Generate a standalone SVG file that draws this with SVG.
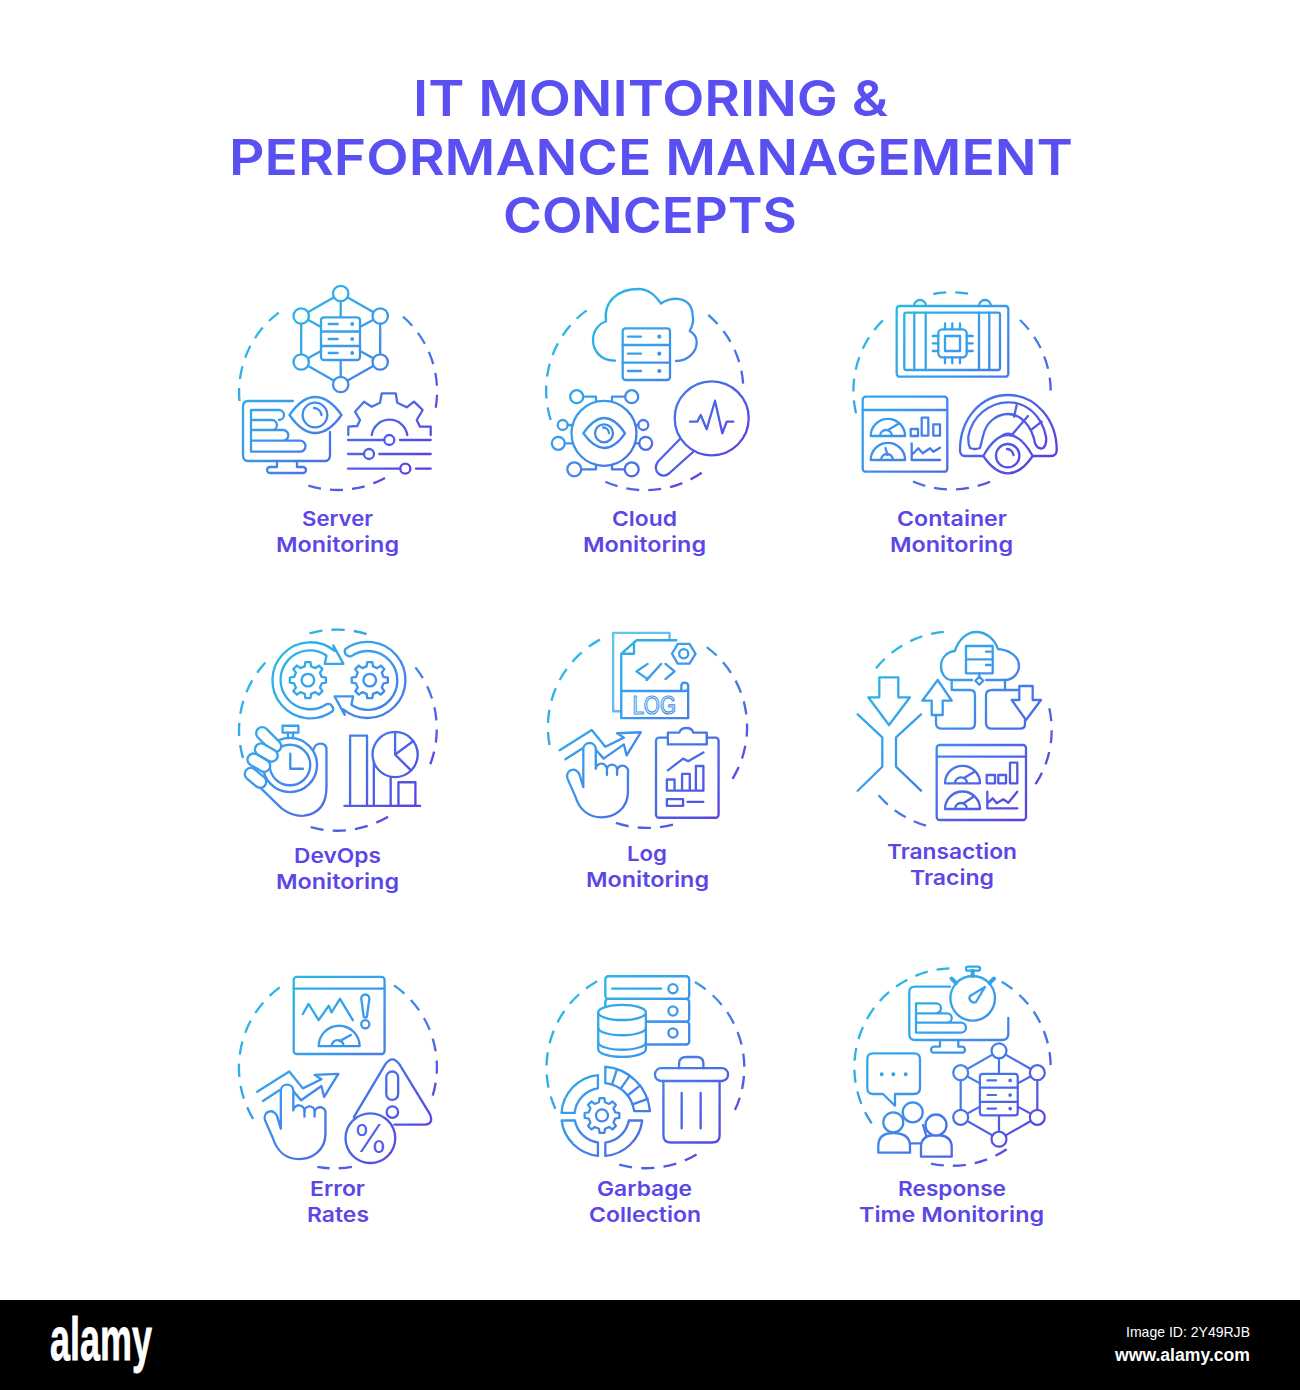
<svg xmlns="http://www.w3.org/2000/svg" width="1300" height="1390" viewBox="0 0 1300 1390">
<style>
.t{font-family:"Inter","Noto Sans",sans-serif;font-weight:600;font-size:50px;fill:#5a50f2}
.l{font-family:"Inter","Noto Sans",sans-serif;font-weight:600;font-size:20.5px;fill:#5b47e6}
.i{fill:none;stroke-width:2.3;stroke-linecap:round;stroke-linejoin:round}
.d{stroke-dasharray:13 9;stroke-linecap:butt}
.w{fill:#fff}
.a{font-family:"Liberation Sans",Arial,sans-serif;fill:#fff}
</style>
<defs>
<linearGradient id="s"><stop offset="0" stop-color="#1fc9de"/><stop offset=".45" stop-color="#3a9cec"/><stop offset="1" stop-color="#5a3fe2"/></linearGradient>
<linearGradient id="g1" href="#s" gradientUnits="userSpaceOnUse" x1="238" y1="291" x2="420" y2="470"/>
<linearGradient id="g2" href="#s" gradientUnits="userSpaceOnUse" x1="545" y1="291" x2="727" y2="470"/>
<linearGradient id="g3" href="#s" gradientUnits="userSpaceOnUse" x1="852" y1="291" x2="1034" y2="470"/>
<linearGradient id="g4" href="#s" gradientUnits="userSpaceOnUse" x1="236" y1="628" x2="418" y2="808"/>
<linearGradient id="g5" href="#s" gradientUnits="userSpaceOnUse" x1="542" y1="628" x2="725" y2="808"/>
<linearGradient id="g6" href="#s" gradientUnits="userSpaceOnUse" x1="853" y1="628" x2="1035" y2="808"/>
<linearGradient id="g7" href="#s" gradientUnits="userSpaceOnUse" x1="236" y1="968" x2="418" y2="1148"/>
<linearGradient id="g8" href="#s" gradientUnits="userSpaceOnUse" x1="540" y1="968" x2="722" y2="1148"/>
<linearGradient id="g9" href="#s" gradientUnits="userSpaceOnUse" x1="852" y1="968" x2="1034" y2="1148"/>
<linearGradient id="h1" href="#g1" gradientTransform="translate(-340.7 -339)"/>
<linearGradient id="h9" href="#g9" gradientTransform="scale(1.031) translate(-999 -1095)"/>
<linearGradient id="c4a" href="#g4" gradientTransform="translate(-306.7 -679.3)"/>
<linearGradient id="c4b" href="#g4" gradientTransform="translate(-367.7 -679.3)"/>
<linearGradient id="c8" href="#g8" gradientTransform="scale(1.04) translate(-596.7 -1113.3)"/>
<linearGradient id="p5" href="#g5" gradientTransform="translate(-553.3 -726.7)"/>
<linearGradient id="p7" href="#g7" gradientTransform="translate(-255 -1068.3)"/>
<g id="hex">
<path d="M0,-45.5 L39.5,-23 V23 L0,45.5 L-39.5,23 V-23 Z M0,-45.5 V-22 M0,21 V45.5 M-39.5,-23 L-19.7,-12 M39.5,-23 L19.3,-12 M-39.5,23 L-19.7,12 M39.5,23 L19.3,12"/>
<circle class="w" cx="0" cy="-45.5" r="7.7"/><circle class="w" cx="-39.5" cy="-23" r="7.7"/><circle class="w" cx="39.5" cy="-23" r="7.7"/><circle class="w" cx="-39.5" cy="23" r="7.7"/><circle class="w" cx="39.5" cy="23" r="7.7"/><circle class="w" cx="0" cy="45.5" r="7.7"/>
<rect class="w" x="-19.7" y="-21.7" width="39" height="42.7" rx="3"/>
<path d="M-19.7,-7.5 H19.3 M-19.7,7 H19.3 M-12,-15 H-3 M-12,0 H-3 M-12,14 H-3"/>
<path d="M11.5,-15 h.01 M11.5,0 h.01 M11.5,14 h.01" stroke-width="3.8"/>
</g>
<g id="gear">
<path class="w" d="M13.6,-3.15 L17.8,-2.5 17.8,2.5 13.6,3.15 11.84,7.39 14.35,10.82 10.82,14.35 7.39,11.84 3.15,13.6 2.5,17.8 -2.5,17.8 -3.15,13.6 -7.39,11.84 -10.82,14.35 -14.35,10.82 -11.84,7.39 -13.6,3.15 -17.8,2.5 -17.8,-2.5 -13.6,-3.15 -11.84,-7.39 -14.35,-10.82 -10.82,-14.35 -7.39,-11.84 -3.15,-13.6 -2.5,-17.8 2.5,-17.8 3.15,-13.6 7.39,-11.84 10.82,-14.35 14.35,-10.82 11.84,-7.39 Z"/>
<circle cx="0" cy="0" r="6.2"/>
</g>
<g id="point">
<path d="M1.7,21.7 L33.3,1.7 46.7,18.3 65,9.3 58.3,5 81.7,4 67.7,26.7 65,16 45,30 38,22 M7.3,30.7 L24,20"/>
<path class="w" d="M25,58 V20 A6.2,6.2 0 0 1 37.3,20 V40 A5.5,5.5 0 0 1 48.3,41 A5,5 0 0 1 58.3,41 A5.3,5.3 0 0 1 69,44 V63 C69,80 55,88 43,88 C30,88 21,80 17,67 L9.5,50 C7,42 16,37 21,45 Z"/>
<path d="M48.3,41 V46 M58.3,41 V46"/>
</g>
</defs>
<rect width="1300" height="1390" fill="#fff"/>
<g id="title">
<text class="t" x="413" y="116" textLength="475" lengthAdjust="spacingAndGlyphs">IT MONITORING &amp;</text>
<text class="t" x="229" y="175" textLength="844" lengthAdjust="spacingAndGlyphs">PERFORMANCE MANAGEMENT</text>
<text class="t" x="503" y="233" textLength="294" lengthAdjust="spacingAndGlyphs">CONCEPTS</text>
</g>

<g id="server-monitoring">
<g class="i" stroke="url(#g1)">
<path class="d" d="M239.5,401 A99,99 0 0 1 280,311.7 M403,316.7 A99,99 0 0 1 435,411.7 M385,478 A99,99 0 0 1 306.7,485"/>
<use href="#hex" transform="translate(340.7 339)" stroke="url(#h1)"/>
<path d="M293,401 H248 Q243,401 243,407 V455 Q243,461 248,461 H325 Q330,461 330,455 V432"/>
<path d="M277,461 V467 H270 A3,3 0 0 0 270,473 H303 A3,3 0 0 0 303,467 H297 V461"/>
<path d="M251,410 V451.7 H300 A5.5,5.5 0 0 0 300,440.7 H251 M283,440.7 A5.3,5.3 0 0 0 283,430 H251 M272,430 A5,5 0 0 0 272,420 H251 M279,420 A5,5 0 0 0 279,410 H251"/>
<path class="w" d="M289.5,415 Q302,397 315,397 Q329,397 341.5,415 Q329,433 315,433 Q302,433 289.5,415 Z"/>
<circle cx="315" cy="415" r="12.3"/>
<path d="M314,408 A8,8 0 0 1 321.5,415"/>
<path d="M348.3,435 V426.7 L357.3,426 360,420 355,411.7 364,401.7 371.7,406.7 380,402.7 381.7,393.3 395.7,393.3 397.3,402.7 406.7,407.3 414,401.7 422.7,410 416.7,420 420,426.7 430.7,426.7 V435"/>
<path d="M371.7,435 A18,18 0 0 1 407.3,435"/>
<path d="M348,440 H384 M400,440 H430.7 M348,454 H364 M379.3,454 H430.7 M348,468.7 H400 M416,468.7 H430.7"/>
<circle cx="389.3" cy="440" r="5"/><circle cx="369" cy="454" r="5"/><circle cx="405.3" cy="468.7" r="5"/>
</g>
<text class="l" x="302" y="526" textLength="71" lengthAdjust="spacingAndGlyphs">Server</text>
<text class="l" x="276" y="552" textLength="123" lengthAdjust="spacingAndGlyphs">Monitoring</text>
</g>

<g id="cloud-monitoring">
<g class="i" stroke="url(#g2)">
<path class="d" d="M550.7,420 A99,99 0 0 1 590,308 M708.3,315 A99,99 0 0 1 743.3,386.7 M701.7,472.7 A99,99 0 0 1 601.7,480"/>
<path d="M615,360.7 C600,360.7 593,350 593,340 C593,330 600,323 606,321.5 C603,300 620,289 638,289 C650,289 656,297 661,303.5 C669,297 692,294 692.7,316 C694,322 692,327 689.7,331 C695,334 696.7,338 696.7,342 C696.7,353 687,361 676,361"/>
<rect class="w" x="622.7" y="328.3" width="47.3" height="51.7" rx="3"/>
<path d="M622.7,345 H670 M622.7,362.7 H670 M628,336.7 H641 M628,353.7 H641 M628,371 H641"/>
<path d="M659.3,336.7 h.01 M659.3,353.7 h.01 M659.3,371 h.01" stroke-width="4.2"/>
<circle cx="604" cy="433.3" r="32.5"/>
<path d="M583.3,433.3 Q594,418 604,418 Q615,418 625,433.3 Q615,448 604,448 Q594,448 583.3,433.3 Z"/>
<circle cx="604" cy="433.3" r="9"/>
<path d="M603,427.5 A6,6 0 0 1 609,433"/>
<circle cx="576.7" cy="396.7" r="6.5"/><circle cx="631.7" cy="396.7" r="6.5"/><circle cx="562.7" cy="425" r="5"/><circle cx="558.3" cy="443.3" r="6.5"/><circle cx="643.3" cy="425" r="5"/><circle cx="645.7" cy="443.3" r="6.5"/><circle cx="574.3" cy="469.3" r="7"/><circle cx="631.7" cy="469.3" r="7"/>
<path d="M583.2,396.7 H596 V401 M625.2,396.7 H612 V401 M567.7,425 H572.5 M564.8,443.3 H572.3 M638.3,425 H635.5 M639.2,443.3 H636 M581.3,469.3 H596 V465 M624.7,469.3 H612 V465"/>
<circle cx="711.7" cy="418.3" r="37"/>
<path d="M680.5,438.5 L658,461.5 Q653,469 659,474 Q664,477.5 669,473.5 L693,452"/>
<path d="M690,421.7 H697.3 L700.7,415 706.7,429.3 715,400.7 722.3,433.3 726.7,421.7 H733.3"/>
</g>
<text class="l" x="612" y="526" textLength="65" lengthAdjust="spacingAndGlyphs">Cloud</text>
<text class="l" x="583" y="552" textLength="123" lengthAdjust="spacingAndGlyphs">Monitoring</text>
</g>

<g id="container-monitoring">
<g class="i" stroke="url(#g3)">
<path class="d" d="M856,413.3 A99,99 0 0 1 885,318.3 M933.3,294 A99,99 0 0 1 970,294 M1020,320 A99,99 0 0 1 1050.7,392.7 M990,481.7 A99,99 0 0 1 911.7,481"/>
<rect x="896.7" y="306" width="111.6" height="70.7" rx="3"/>
<rect x="904.3" y="312.7" width="95.7" height="57.3" rx="2"/>
<path d="M914.3,312.7 V370 M925.7,312.7 V370 M979,312.7 V370 M989.3,312.7 V370 M914,306 a6,6 0 0 1 12,0 M979,306 a6,6 0 0 1 12,0"/>
<rect x="938.3" y="329.3" width="28.4" height="28" rx="4"/>
<rect x="945" y="336" width="15" height="15"/>
<path d="M945,323.3 V329.3 M952.3,323.3 V329.3 M960,323.3 V329.3 M945,357.3 V363.3 M952.3,357.3 V363.3 M960,357.3 V363.3 M932.7,336 H938.3 M932.7,343.3 H938.3 M932.7,351 H938.3 M966.7,336 H972.7 M966.7,343.3 H972.7 M966.7,351 H972.7"/>
<rect x="862.7" y="396.7" width="84.6" height="75" rx="3"/>
<path d="M862.7,410 H947.3"/>
<path d="M870.7,436 a17.2,17.2 0 0 1 34.4,0 Z M880,436 a6,6 0 0 1 12,0 M888,430 l10,-6"/>
<path d="M870.7,460 a17.2,17.2 0 0 1 34.4,0 Z M881,460 a6,6 0 0 1 12,0 M887.5,455 l-2,-7"/>
<rect x="910.7" y="429" width="7.3" height="7"/><rect x="921.7" y="417.7" width="6.6" height="18"/><rect x="933.3" y="424.3" width="6.7" height="11.4"/>
<path d="M911.7,443.3 V460 H940 M911.7,455 L918.3,448.3 922.7,453.3 930,448.3 933.3,451.7 940,447.7"/>
<path d="M983.3,456 H965 Q960,456 960,450 C960,420 980,395 1008,395 C1036,395 1056.7,420 1056.7,450 Q1056.7,456 1051,456 H1032"/>
<path d="M970,448 Q968,444 968.3,436.7 C972,416 990,402.3 1008.3,402.3 C1027,402.3 1042,416 1046,436.7 Q1047,444 1043.3,448 Q1038,450 1035,443.3 C1032,426 1021,414 1008.3,414 C996,414 986,423 983.3,435 L980,448 Q975,450 970,448 Z"/>
<path d="M1016.7,405 L1014,416.7 M1041.7,421.7 L1031.7,429.3 M1028,416 L1011.7,435 M1001,437 a9,9 0 0 1 14,0"/>
<path class="w" d="M983.3,456 Q995,435 1008,435 Q1021,435 1032.7,456 Q1021,473.3 1008,473.3 Q995,473.3 983.3,456 Z"/>
<circle cx="1007.7" cy="455.7" r="11.7"/>
<path d="M1007,449 A7,7 0 0 1 1013.5,455"/>
</g>
<text class="l" x="897" y="526" textLength="110" lengthAdjust="spacingAndGlyphs">Container</text>
<text class="l" x="890" y="552" textLength="123" lengthAdjust="spacingAndGlyphs">Monitoring</text>
</g>

<g id="devops-monitoring">
<g class="i" stroke="url(#g4)" transform="matrix(1.014 0 0 1.014 -3.08 -8.68)">
<path class="d" d="M242.7,756 A98,98 0 0 1 265,661.7 M308.3,633.3 A98,98 0 0 1 365,634 M412.7,666.7 A98,98 0 0 1 426.7,764 M385.7,814 A98,98 0 0 1 308.3,824"/>
<path d="M325,655 A29,29 0 1 0 325,703 A5,5 0 0 1 331,710 A37.5,37.5 0 1 1 333,650.5 L331.7,645 341.7,663.3 H323.3 Z"/>
<path d="M349.6,703.6 A29,29 0 1 0 349.6,655.6 A5,5 0 0 1 343.6,648.6 A37.5,37.5 0 1 1 341.6,708.1 L343,713.6 333,695.3 H351.3 Z"/>
<use href="#gear" transform="translate(306.7 679.3)" stroke="url(#c4a)"/>
<use href="#gear" transform="translate(367.7 679.3)" stroke="url(#c4b)"/>
<circle cx="289" cy="763" r="26.7"/>
<circle cx="289" cy="763" r="20"/>
<path d="M289.3,751.7 V766.7 H301.7"/>
<rect x="281.7" y="724.3" width="15.6" height="6.7"/>
<path d="M287,731 V736.5 M292,731 V736.5"/>
<path d="M249,775 L281,806 Q292,814 303,813 Q325,810 325,785 V748 Q325,742 319,742 Q314,742 312,748"/>
<rect class="w" x="253" y="732" width="30" height="12" rx="6" transform="rotate(45 268 738)"/>
<rect class="w" x="253.7" y="744.7" width="24" height="12" rx="6" transform="rotate(30 265.7 750.7)"/>
<rect class="w" x="246.3" y="754.7" width="24" height="12" rx="6" transform="rotate(30 258.3 760.7)"/>
<rect class="w" x="243" y="769.7" width="24" height="12" rx="6" transform="rotate(40 255 775.7)"/>
<path d="M348.3,803.3 V734 H365 V803.3 M371.7,803.3 V752 M388.3,803.3 V775 M342.7,803.3 H417.3"/>
<rect x="396" y="780" width="16.7" height="23.3"/>
<circle cx="392.7" cy="752.7" r="22.3" class="w"/>
<path d="M392.7,731 V752.7 L410.7,739.3 M392.7,752.7 L408.3,768.3"/>
</g>
<text class="l" x="294" y="863" textLength="87" lengthAdjust="spacingAndGlyphs">DevOps</text>
<text class="l" x="276" y="889" textLength="123" lengthAdjust="spacingAndGlyphs">Monitoring</text>
</g>

<g id="log-monitoring">
<g class="i" stroke="url(#g5)" transform="matrix(1.014 0 0 1.014 -3.08 -8.68)">
<path class="d" d="M545,743.3 A98,98 0 0 1 596.7,638.3 M700,646.7 A98,98 0 0 1 723.3,780 M666.7,821.7 A98,98 0 0 1 610,820"/>
<path d="M663.3,640 V632.7 H607.7 V710 H615.7" stroke-opacity=".75"/>
<path d="M615.7,690 V653.3 L630.7,640 H670 M616.7,653.3 H628.3 V641.7"/>
<path class="w" d="M665.7,653.3 L671.5,643.6 683,643.6 689,653.3 683,663 671.5,663 Z"/>
<circle cx="677.3" cy="653.3" r="4.5"/>
<path d="M641.7,663.3 L630.7,670.7 641.7,678.3 M659.3,663.3 L668.3,670.7 659.3,678.3 M655,663.3 L640.7,679.3"/>
<path d="M615.7,690 H675 V685 Q675,681.7 678,681.7 Q681.7,681.7 681.7,685 V716.7 H615.7 Z M675,690 H678 Q681.7,690 681.7,687"/>
<text x="626.7" y="713" font-family="Liberation Sans, Arial, sans-serif" font-size="25" textLength="43" lengthAdjust="spacingAndGlyphs" fill="none" stroke-width="1.2">LOG</text>
<use href="#point" transform="translate(553.3 726.7)" stroke="url(#p5)"/>
<rect x="650" y="736" width="61.7" height="79" rx="3"/>
<path class="w" d="M661.7,742.7 V731 H673 C675,725 685,725 686.7,731 H700 V742.7 Z"/>
<path d="M661.7,768.3 L676.7,756.7 681.7,759.3 696.7,750.7 M660.7,788.3 V777.3 H668.3 V788.3 M675.7,788.3 V771.7 H683.3 V788.3 M689.3,788.3 V764 H696.7 V788.3 M660.7,788.3 H696.7 M681,799.3 H696.7"/>
<rect x="660.7" y="796.7" width="16" height="6.6"/>
</g>
<text class="l" x="627" y="861" textLength="40" lengthAdjust="spacingAndGlyphs">Log</text>
<text class="l" x="586" y="887" textLength="123" lengthAdjust="spacingAndGlyphs">Monitoring</text>
</g>

<g id="transaction-tracing">
<g class="i" stroke="url(#g6)">
<path class="d" d="M876,668.3 A99,99 0 0 1 945,631.7 M1049.3,708.3 A99,99 0 0 1 1035,785 M926,825.7 A99,99 0 0 1 878.3,795"/>
<path d="M879.3,677.3 H898.3 V697.3 H910 L889,725 868.3,697.3 H879.3 Z"/>
<path d="M857.7,714.3 L882.3,737.3 V766.7 L857.7,790.7 M921,714.3 L896,737.3 V766.7 L921,790.7"/>
<path d="M972,680 H952 C945,680 941,673 941,666 C941,658 947,651.5 955,651 C958,640 967,632 976,632 C987,632 995,640 998,649 C1009,650 1019,656 1019,666 C1019,673 1013,680 1005,680 H986"/>
<rect x="966" y="646" width="26.7" height="27.3"/>
<path d="M966,659.3 H992.7 M986,651.7 H990.7 M986,665 H990.7 M979.3,673.3 V676.7"/>
<path d="M979.3,676.7 L983.3,680.7 979.3,684.7 975.3,680.7 Z"/>
<path d="M951.7,680 V690 M1005,680 V690"/>
<path d="M953,690 H970 Q975,690 975,695 V723 Q975,728.7 970,728.7 H942 Q936,728.7 936,723 V715"/>
<path d="M937.7,680 L951.7,700.7 H942.7 V715 H931.7 V700.7 H922.3 Z"/>
<path d="M1018,690 H992 Q986,690 986,695 V723 Q986,728.7 992,728.7 H1020 Q1025,728.7 1025,724 V720"/>
<path d="M1019.3,686 H1032.7 V700 H1041 L1026,720 1011.7,700 H1019.3 Z"/>
<rect x="936.7" y="745" width="89.3" height="75" rx="3"/>
<path d="M936.7,756.7 H1026"/>
<path d="M945,783.3 a17.5,17.5 0 0 1 35,0 Z M955,783.3 a6,6 0 0 1 12,0 M964,778 l10,-6"/>
<path d="M945,809 a17.5,17.5 0 0 1 35,0 Z M955,809 a6,6 0 0 1 12,0 M964,803 l9,-6"/>
<rect x="986.7" y="775" width="8.3" height="8.3"/><rect x="998.3" y="775" width="7.7" height="8.3"/><rect x="1010" y="762.7" width="7.3" height="20.6"/>
<path d="M987.3,791.7 V808.3 H1017.3 M987.3,803.3 L992.7,798.3 996.7,803.3 1003.3,799.3 1008.3,802.7 1017.3,791.7"/>
</g>
<text class="l" x="887" y="859" textLength="130" lengthAdjust="spacingAndGlyphs">Transaction</text>
<text class="l" x="910" y="885" textLength="84" lengthAdjust="spacingAndGlyphs">Tracing</text>
</g>

<g id="error-rates">
<g class="i" stroke="url(#g7)" transform="matrix(1.014 0 0 1.014 -3.08 -13.44)">
<path class="d" d="M252.7,1116.7 A98,98 0 0 1 281.7,985 M391.7,985 A98,98 0 0 1 428.3,1098.3 M350,1164 A98,98 0 0 1 316,1164"/>
<rect x="292.7" y="976.7" width="89.6" height="76" rx="3"/>
<path d="M292.7,988.3 H382.3 M301.7,1013.3 L307.3,1003.3 317.3,1019.3 327.3,1005 330,1011.7 338.3,998.3 351,1019.3"/>
<path d="M359.3,998 a4,4 0 0 1 8,0 L365,1015 a1.7,1.7 0 0 1 -3.4,0 Z"/>
<circle cx="363.3" cy="1023.3" r="4"/>
<path d="M317.3,1045 a20.2,20.2 0 0 1 40.4,0 Z M330,1045 a6,6 0 0 1 12,0 M338,1040 l11,-6"/>
<use href="#point" transform="translate(255 1068.3)" stroke="url(#p7)"/>
<path d="M352,1115 L383,1063 Q390,1053 397,1063 L427,1112 Q431,1122 422,1122.3 H392"/>
<rect x="384" y="1070" width="11.7" height="28" rx="5.8"/>
<circle cx="390" cy="1110" r="5.7"/>
<circle class="w" cx="368.3" cy="1135.7" r="24.5"/>
<text x="368.3" y="1149" text-anchor="middle" font-family="Inter, Liberation Sans, sans-serif" font-weight="300" font-size="37" fill="url(#g7)" stroke="none">%</text>
</g>
<text class="l" x="310" y="1196" textLength="55" lengthAdjust="spacingAndGlyphs">Error</text>
<text class="l" x="307" y="1222" textLength="62" lengthAdjust="spacingAndGlyphs">Rates</text>
</g>

<g id="garbage-collection">
<g class="i" stroke="url(#g8)" transform="matrix(1.014 0 0 1.014 -3.08 -13.44)">
<path class="d" d="M550.7,1106.7 A98,98 0 0 1 595,979.3 M688.3,981.7 A98,98 0 0 1 726,1111.7 M690,1151.7 A98,98 0 0 1 613.3,1161.7"/>
<rect x="600" y="976" width="82.7" height="22.3" rx="3"/>
<rect x="600" y="998.3" width="82.7" height="22.4" rx="3"/>
<rect x="620" y="1020.7" width="62.7" height="22.6" rx="3"/>
<path d="M606.7,988.3 H655"/>
<circle cx="666.7" cy="988.3" r="4.5"/><circle cx="666.7" cy="1010.3" r="4.5"/><circle cx="666.7" cy="1032" r="4.5"/>
<path class="w" d="M593,1011.7 V1048 a23.5,7.5 0 0 0 47,0 V1011.7 Z"/>
<ellipse class="w" cx="616.5" cy="1011.7" rx="23.5" ry="7.5"/>
<path d="M593,1026.7 a23.5,7.5 0 0 0 47,0 M593,1041 a23.5,7.5 0 0 0 47,0"/>
<path d="M592.7,1073.5 A40,40 0 0 0 556.8,1110.7 H569.8 A27,27 0 0 1 592.7,1086.6 Z"/>
<path d="M556.9,1118.3 A40,40 0 0 0 592.7,1153.1 V1140 A27,27 0 0 1 570,1118.3 Z"/>
<path d="M600,1153.2 A40,40 0 0 0 636.4,1118.3 H623.2 A27,27 0 0 1 600,1140.1 Z"/>
<path d="M600,1065.3 A48,48 0 0 1 644,1109 H628.5 A32,32 0 0 0 600,1081.5 Z"/>
<path d="M606.6,1082.9 L611.5,1067.6 M615,1087.1 L624.2,1074 M621.9,1093.6 L634.5,1083.7 M626.8,1102.4 L641.8,1096.9"/>
<use href="#gear" transform="translate(596.7 1113.3) scale(.96)" stroke="url(#c8)"/>
<rect x="649" y="1066.7" width="72" height="12.6" rx="6"/>
<path d="M672.7,1066.7 V1062 Q672.7,1055.7 680,1055.7 H690 Q696.7,1055.7 696.7,1062 V1066.7"/>
<path d="M657.3,1079.3 V1133 Q657.3,1140 665,1140 H705 Q712.7,1140 712.7,1133 V1079.3 M675.3,1091 V1126 M694,1091 V1126"/>
</g>
<text class="l" x="597" y="1196" textLength="95" lengthAdjust="spacingAndGlyphs">Garbage</text>
<text class="l" x="589" y="1222" textLength="112" lengthAdjust="spacingAndGlyphs">Collection</text>
</g>

<g id="response-time-monitoring">
<g class="i" stroke="url(#g9)">
<path class="d" d="M871.7,1123.3 A99,99 0 0 1 953.3,968.3 M1001.7,981.7 A99,99 0 0 1 1050.7,1066.7 M1006.7,1149.3 A99,99 0 0 1 930,1163.3"/>
<path d="M950,986.7 H915 Q909.3,986.7 909.3,992 V1034 Q909.3,1040 915,1040 H1002 Q1008.3,1040 1008.3,1034 V1018"/>
<path d="M940,1040 V1046.7 H934 A3,3 0 0 0 934,1052.7 H962 A3,3 0 0 0 962,1046.7 H958.3 V1040"/>
<path d="M916,1003.3 V1032.7 H961 A5,5 0 0 0 961,1022.7 H916 M947,1022.7 A4.7,4.7 0 0 0 947,1013.3 H916 M936,1013.3 A5,5 0 0 0 936,1003.3 H916"/>
<circle class="w" cx="972.7" cy="998.3" r="22.3"/>
<rect x="966" y="966.7" width="14" height="4" rx="2"/>
<path d="M972.7,970.7 V976 M951.5,978.5 L956,983 M994,978.5 L989.5,983" stroke-width="4"/>
<path d="M971,1001 A4,4 0 0 1 970,996 L985,987 976,1002 A4,4 0 0 1 971,1001 Z"/>
<path d="M873,1053.3 H914 Q920,1053.3 920,1059 V1088 Q920,1094 914,1094 H895 V1105.7 L883,1094 H873 Q867.3,1094 867.3,1088 V1059 Q867.3,1053.3 873,1053.3 Z"/>
<path d="M881.7,1074.3 h.01 M893.3,1074.3 h.01 M905.7,1074.3 h.01" stroke-width="4"/>
<circle cx="912.7" cy="1112.3" r="10"/>
<path d="M923,1125 L927,1138 M909.5,1143.3 H921"/>
<path class="w" d="M878.3,1152.7 V1146 Q878.3,1133 893,1133 Q910,1133 910,1146 V1152.7 Z"/>
<circle class="w" cx="893.3" cy="1122.3" r="10"/>
<path class="w" d="M921,1156.7 V1147 Q921,1135 936,1135 Q951.7,1135 951.7,1147 V1156.7 Z"/>
<circle class="w" cx="936" cy="1125" r="10.5"/>
<use href="#hex" transform="translate(999 1095) scale(.97)" stroke="url(#h9)"/>
</g>
<text class="l" x="898" y="1196" textLength="108" lengthAdjust="spacingAndGlyphs">Response</text>
<text class="l" x="859" y="1222" textLength="185" lengthAdjust="spacingAndGlyphs">Time Monitoring</text>
</g>

<g id="footer">
<rect x="0" y="1300" width="1300" height="90" fill="#000"/>
<text class="a" x="50" y="1360" font-size="62" font-weight="700" textLength="102" lengthAdjust="spacingAndGlyphs" stroke="#fff" stroke-width=".8">alamy</text>
<text class="a" x="1126" y="1337" font-size="15" textLength="124" lengthAdjust="spacingAndGlyphs">Image ID: 2Y49RJB</text>
<text class="a" x="1115" y="1361" font-size="18" font-weight="700" textLength="135" lengthAdjust="spacingAndGlyphs">www.alamy.com</text>
</g>
</svg>
